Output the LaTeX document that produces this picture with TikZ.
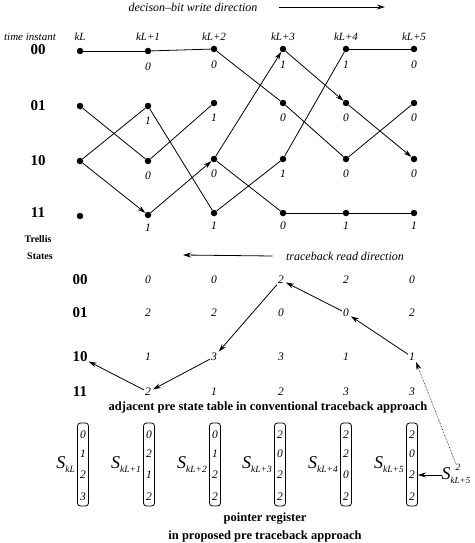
\documentclass[tikz,border=0pt]{standalone}
\usepackage{fontspec}
\setmainfont{Liberation Serif}
\usetikzlibrary{arrows.meta,positioning}

\newcommand{\regname}[1]{\textit{S}\raisebox{-4pt}{\fontsize{9.5}{9.5}\selectfont\textit{#1}}}
\newcommand{\ptrname}[2]{\textit{S}\rlap{\raisebox{9pt}{\fontsize{9.5}{9.5}\selectfont\hspace{5pt}\textit{#1}}}\raisebox{-4pt}{\fontsize{9}{9}\selectfont\textit{#2}}}

\begin{document}
\begin{tikzpicture}[x=1pt, y=-1pt,
  dot/.style = {circle, fill, inner sep=0pt, minimum size=6.5pt},
  bit/.style = {font=\fontsize{11.5}{12}\selectfont\itshape, inner sep=1pt},
  state/.style = {font=\fontsize{15}{15}\selectfont\bfseries, inner sep=1pt},
  instant/.style = {font=\fontsize{11}{12}\selectfont\itshape},
  direction/.style = {font=\fontsize{12}{12}\selectfont\itshape},
  register/.style = {rectangle, draw, line width=0.8pt, rounded corners=3pt, minimum width=11pt, minimum height=83pt, inner sep=0pt},
  regname/.style = {font=\fontsize{18}{18}\selectfont, inner sep=0pt},
  caption/.style = {font=\fontsize{12.5}{14}\selectfont\bfseries, align=center},
  trellis/.style = {line width=0.8pt},
  arrowed/.style = {-{Stealth[length=8pt, width=5pt]}}]
  \useasboundingbox (0,0) rectangle (474,543);

  % Directions.
  \node at (193, 7) [direction, name=WriteDir] {decison--bit write direction};
  \node at (345, 256) [direction, name=ReadDir] {traceback read direction};
  \coordinate (writeend) at (385, 7);
  \coordinate (readend) at (183, 255);
  \draw [trellis, arrowed] (WriteDir.east) ++(18,0) to (writeend);
  \draw [trellis, arrowed] (ReadDir.west) ++(-10,0) to (readend);

  % Time instants and trellis states.
  \node at (30, 37) [instant, name=TimeInstant] {time instant};
  \node at (80, 37) [instant, name=TkL] {kL};
  \node at (148, 37) [instant, name=TkL1] {kL+1};
  \node at (214, 37) [instant, name=TkL2] {kL+2};
  \node at (283, 37) [instant, name=TkL3] {kL+3};
  \node at (346, 37) [instant, name=TkL4] {kL+4};
  \node at (414, 37) [instant, name=TkL5] {kL+5};
  \node at (38, 50) [state, name=Row00] {00};
  \node at (38, 106) [state, name=Row01] {01};
  \node at (38, 161) [state, name=Row10] {10};
  \node at (38, 213) [state, name=Row11] {11};
  \node at (38, 239) [state, font=\fontsize{10}{10}\selectfont\bfseries, name=Trellis] {Trellis};
  \node at (40, 256) [state, font=\fontsize{10}{10}\selectfont\bfseries, name=States] {States};

  % Trellis dots.
  \node at (80, 51) [dot, name=S00t0] {};
  \node at (148, 51) [dot, name=S00t1] {};
  \node at (214, 49) [dot, name=S00t2] {};
  \node at (283, 49) [dot, name=S00t3] {};
  \node at (346, 49) [dot, name=S00t4] {};
  \node at (414, 49) [dot, name=S00t5] {};
  \node at (80, 106) [dot, name=S01t0] {};
  \node at (148, 106) [dot, name=S01t1] {};
  \node at (214, 103) [dot, name=S01t2] {};
  \node at (283, 103) [dot, name=S01t3] {};
  \node at (346, 103) [dot, name=S01t4] {};
  \node at (414, 103) [dot, name=S01t5] {};
  \node at (80, 161) [dot, name=S10t0] {};
  \node at (148, 161) [dot, name=S10t1] {};
  \node at (214, 159) [dot, name=S10t2] {};
  \node at (283, 159) [dot, name=S10t3] {};
  \node at (346, 159) [dot, name=S10t4] {};
  \node at (414, 159) [dot, name=S10t5] {};
  \node at (80, 216) [dot, name=S11t0] {};
  \node at (148, 215) [dot, name=S11t1] {};
  \node at (214, 213) [dot, name=S11t2] {};
  \node at (283, 213) [dot, name=S11t3] {};
  \node at (346, 213) [dot, name=S11t4] {};
  \node at (414, 213) [dot, name=S11t5] {};

  % Decision bits.
  \node [bit, below=7pt of S00t1] {0};
  \node [bit, below=7pt of S00t2] {0};
  \node [bit, below=7pt of S00t3] {1};
  \node [bit, below=7pt of S00t4] {1};
  \node [bit, below=7pt of S00t5] {0};
  \node [bit, below=6pt of S01t1] {1};
  \node [bit, below=6pt of S01t2] {1};
  \node [bit, below=6pt of S01t3] {0};
  \node [bit, below=6pt of S01t4] {0};
  \node [bit, below=6pt of S01t5] {0};
  \node [bit, below=6pt of S10t1] {0};
  \node [bit, below=6pt of S10t2] {0};
  \node [bit, below=6pt of S10t3] {1};
  \node [bit, below=6pt of S10t4] {0};
  \node [bit, below=6pt of S10t5] {0};
  \node [bit, below=4pt of S11t1] {1};
  \node [bit, below=4pt of S11t2] {1};
  \node [bit, below=4pt of S11t3] {0};
  \node [bit, below=4pt of S11t4] {1};
  \node [bit, below=4pt of S11t5] {1};

  % Trellis branches.
  \draw [trellis] (S00t0) to (S00t1);
  \draw [trellis] (S00t1) to (S00t2);
  \draw [trellis] (S00t2) to (S01t3);
  \draw [trellis] (S01t3) to (S10t4);
  \draw [trellis] (S10t4) to (S01t5);
  \draw [trellis] (S00t4) to (S00t5);
  \draw [trellis] (S00t4) to (S10t3);
  \draw [trellis] (S10t3) to (S11t2);
  \draw [trellis] (S01t0) to (S10t1);
  \draw [trellis] (S10t0) to (S01t1);
  \draw [trellis] (S10t1) to (S01t2);
  \draw [trellis] (S01t1) to (S11t2);
  \draw [trellis] (S10t2) to (S11t3);
  \draw [trellis] (S11t3) to (S11t4);
  \draw [trellis] (S11t4) to (S11t5);

  % Survivor path.
  \draw [trellis, arrowed] (S10t0) to (S11t1);
  \draw [trellis, arrowed] (S11t1) to (S10t2);
  \draw [trellis, arrowed] (S10t2) to (S00t3);
  \draw [trellis, arrowed] (S00t3) to (S01t4);
  \draw [trellis, arrowed] (S01t4) to (S10t5);

  % Adjacent pre state table.
  \node at (80, 280) [state, name=Pre00] {00};
  \node at (80, 313) [state, name=Pre01] {01};
  \node at (80, 357) [state, name=Pre10] {10};
  \node at (80, 392) [state, name=Pre11] {11};
  \node at (148, 280) [bit, name=P00t1] {0};
  \node at (214, 280) [bit, name=P00t2] {0};
  \node at (281, 280) [bit, name=P00t3] {2};
  \node at (346, 280) [bit, name=P00t4] {2};
  \node at (412, 280) [bit, name=P00t5] {0};
  \node at (148, 313) [bit, name=P01t1] {2};
  \node at (214, 313) [bit, name=P01t2] {2};
  \node at (281, 313) [bit, name=P01t3] {0};
  \node at (346, 313) [bit, name=P01t4] {0};
  \node at (412, 313) [bit, name=P01t5] {2};
  \node at (148, 357) [bit, name=P10t1] {1};
  \node at (214, 357) [bit, name=P10t2] {3};
  \node at (281, 357) [bit, name=P10t3] {3};
  \node at (346, 357) [bit, name=P10t4] {1};
  \node at (412, 357) [bit, name=P10t5] {1};
  \node at (148, 392) [bit, name=P11t1] {2};
  \node at (214, 392) [bit, name=P11t2] {1};
  \node at (281, 392) [bit, name=P11t3] {2};
  \node at (346, 392) [bit, name=P11t4] {3};
  \node at (412, 392) [bit, name=P11t5] {3};
  \node at (268, 407) [caption, name=TableCaption] {adjacent pre state table in conventional traceback approach};

  % Traceback through the table.
  \draw [trellis, arrowed, shorten >=1pt] (P10t5) to (P01t4);
  \draw [trellis, arrowed, shorten >=1pt] (P01t4) to (P00t3);
  \draw [trellis, arrowed, shorten >=1pt] (P00t3) to (P10t2);
  \draw [trellis, arrowed, shorten >=1pt] (P10t2) to (P11t1);
  \draw [trellis, arrowed] (P11t1) to (Pre10);

  % Pointer registers.
  \node at (83, 464.5) [register, name=RegKL0] {};
  \node at (149, 464.5) [register, name=RegKL1] {};
  \node at (215, 464.5) [register, name=RegKL2] {};
  \node at (280, 464.5) [register, name=RegKL3] {};
  \node at (346, 464.5) [register, name=RegKL4] {};
  \node at (412, 464.5) [register, name=RegKL5] {};
  \node at (83, 435) [bit] {0};
  \node at (83, 454) [bit] {1};
  \node at (83, 475) [bit] {2};
  \node at (83, 497) [bit] {3};
  \node at (149, 435) [bit] {0};
  \node at (149, 454) [bit] {2};
  \node at (149, 475) [bit] {1};
  \node at (149, 497) [bit] {2};
  \node at (215, 435) [bit] {0};
  \node at (215, 454) [bit] {1};
  \node at (215, 475) [bit] {2};
  \node at (215, 497) [bit] {2};
  \node at (280, 435) [bit] {2};
  \node at (280, 454) [bit] {0};
  \node at (280, 475) [bit] {2};
  \node at (280, 497) [bit] {2};
  \node at (346, 435) [bit] {2};
  \node at (346, 454) [bit] {2};
  \node at (346, 475) [bit] {0};
  \node at (346, 497) [bit] {2};
  \node at (412, 435) [bit] {2};
  \node at (412, 454) [bit] {0};
  \node at (412, 475) [bit, name=RegKL5c] {2};
  \node at (412, 497) [bit] {2};
  \node [regname, left=2pt of RegKL0] {\regname{kL}};
  \node [regname, left=2pt of RegKL1] {\regname{kL+1}};
  \node [regname, left=2pt of RegKL2] {\regname{kL+2}};
  \node [regname, left=2pt of RegKL3] {\regname{kL+3}};
  \node [regname, left=2pt of RegKL4] {\regname{kL+4}};
  \node [regname, left=2pt of RegKL5] {\regname{kL+5}};
  \node at (456, 474) [regname, name=Pointer] {\ptrname{2}{kL+5}};
  \node at (265, 527) [caption, name=RegCaption] {pointer register\\[4pt]in proposed pre traceback approach};

  % Pointer updates.
  \draw [trellis, arrowed] (Pointer.west |- RegKL5c) to (RegKL5.east |- RegKL5c);
  \draw [line width=0.6pt, densely dotted, arrowed] (Pointer.north) to (P10t5.south east);
\end{tikzpicture}
\end{document}
